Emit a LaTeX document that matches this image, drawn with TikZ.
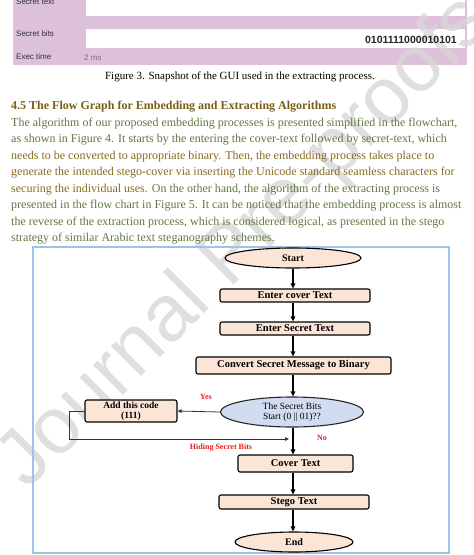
\documentclass[tikz,border=0pt]{standalone}
\usepackage{fontspec}
\setmainfont{Liberation Serif}
\setsansfont{Liberation Sans}
\usetikzlibrary{shapes.geometric,arrows.meta}
\definecolor{guipink}{RGB}{221,193,218}
\definecolor{headcol}{RGB}{122,92,20}
\definecolor{txtgreen}{RGB}{95,120,65}
\definecolor{txtgold}{RGB}{135,105,35}
\definecolor{framecol}{RGB}{157,195,230}
\definecolor{peach}{RGB}{251,229,214}
\definecolor{decblue}{RGB}{210,220,240}
\definecolor{wmgray}{RGB}{215,215,215}
\definecolor{labred}{RGB}{230,30,30}
\tikzset{
  guilabel/.style={font=\fontsize{8}{9}\selectfont\sffamily, text=black!80, inner sep=0pt},
  bodyline/.style={font=\fontsize{12}{14}\selectfont, anchor=base west, inner sep=0pt},
  proc/.style={draw=black, line width=1.1pt, fill=peach, rounded corners=2pt,
    font=\fontsize{10.5}{11}\selectfont\bfseries, inner sep=0pt},
  term/.style={ellipse, draw=black, line width=1.1pt, fill=peach,
    font=\fontsize{10}{11}\selectfont\bfseries, inner sep=0pt},
  flow/.style={line width=1.2pt, -{Triangle[length=5pt,width=4.5pt]}},
  redlab/.style={font=\fontsize{8}{9}\selectfont\bfseries, text=labred, inner sep=0pt}
}
\begin{document}
\begin{tikzpicture}[x=1pt,y=-1pt]
\useasboundingbox (0,0) rectangle (474,555);
\clip (0,0) rectangle (474,555);
% GUI snapshot backgrounds
\fill[guipink] (13,-5) rectangle (467,65);
\fill[white] (86,-5) rectangle (465,16);
\fill[white] (86,29) rectangle (465,48);
% watermark (behind texts)
\node[rotate=45, font=\fontsize{80}{80}\selectfont\sffamily, text=wmgray, opacity=0.8, inner sep=0pt] (wm) at (246,243) {Journal Pre-proofs};
% GUI texts
\node[guilabel, anchor=base west] (g1) at (16,4) {Secret text};
\node[guilabel, anchor=base west] (g2) at (16,36) {Secret bits};
\node[guilabel, anchor=base west] (g3) at (16,59) {Exec time};
\node[font=\fontsize{8}{9}\selectfont\sffamily, text=black!55, anchor=base west, inner sep=0pt] (g4) at (84,60) {2 ms};
\node[font=\fontsize{10.5}{11}\selectfont\sffamily\bfseries, text=black!85, anchor=base east, inner sep=0pt] (g5) at (457,43) {0101111000010101};
% caption
\node[font=\fontsize{11}{13}\selectfont, anchor=base, inner sep=0pt] (cap) at (240,79) {Figure 3. Snapshot of the GUI used in the extracting process.};
% heading and text
\node[font=\fontsize{12}{14}\selectfont\bfseries, text=headcol, anchor=base west, inner sep=0pt] (head) at (11,109) {4.5 The Flow Graph for Embedding and Extracting Algorithms};
\node[bodyline, text=txtgreen] (p1) at (11,126) {The algorithm of our proposed embedding processes is presented simplified in the flowchart,};
\node[bodyline, text=txtgreen] (p2) at (11,142.5) {as shown in Figure 4. It starts by the entering the cover-text followed by secret-text, which};
\node[bodyline, text=txtgold] (p3) at (11,159) {needs to be converted to appropriate binary. Then, the embedding process takes place to};
\node[bodyline, text=txtgold] (p4) at (11,175.5) {generate the intended stego-cover via inserting the Unicode standard seamless characters for};
\node[bodyline] (p5) at (11,192) {\textcolor{txtgold}{securing the individual uses.} \textcolor{txtgreen}{On the other hand, the algorithm of the extracting process is}};
\node[bodyline, text=txtgreen] (p6) at (11,208.5) {presented in the flow chart in Figure 5. It can be noticed that the embedding process is almost};
\node[bodyline, text=txtgreen] (p7) at (11,225) {the reverse of the extraction process, which is considered logical, as presented in the stego};
\node[bodyline, text=txtgreen] (p8) at (11,241.5) {strategy of similar Arabic text steganography schemes.};
% flowchart frame
\draw[framecol, line width=1.3pt] (33,247) rectangle (449,553);
% nodes
\node[term, minimum width=136pt, minimum height=20pt] (start) at (293,258) {Start};
\node[proc, minimum width=150pt, minimum height=13pt] (cover) at (295,295.5) {Enter cover Text};
\node[proc, minimum width=150pt, minimum height=13pt] (secret) at (295,328.5) {Enter Secret Text};
\node[proc, minimum width=195pt, minimum height=17pt] (conv) at (293.5,365.5) {Convert Secret Message to Binary};
\node[ellipse, draw=black!85, line width=1.1pt, fill=decblue, minimum width=143pt, minimum height=30pt, inner sep=0pt,
  font=\fontsize{9.5}{10}\selectfont, align=center] (dec) at (292,412) {The Secret Bits\\Start (0 || 01)??};
\node[proc, minimum width=92pt, minimum height=22pt, align=center, font=\fontsize{9.5}{9.5}\selectfont\bfseries] (add) at (131,411) {Add this code\\(111)};
\node[proc, minimum width=115pt, minimum height=17pt] (ctext) at (295.5,463.5) {Cover Text};
\node[proc, minimum width=150pt, minimum height=14pt] (stego) at (294,502) {Stego Text};
\node[term, minimum width=118pt, minimum height=20pt] (end) at (294,542) {End};
% connectors
\coordinate (loopend) at (289,439);
\draw[flow] (start.south) -- (start.south |- cover.north);
\draw[flow] (cover.south -| start.south) -- (start.south |- secret.north);
\draw[flow] (secret.south -| start.south) -- (start.south |- conv.north);
\draw[flow] (conv.south -| start.south) -- (start.south |- dec.north);
\draw[flow] (dec.south -| start.south) -- (start.south |- ctext.north);
\draw[flow] (ctext.south -| start.south) -- (start.south |- stego.north);
\draw[flow] (stego.south -| start.south) -- (start.south |- end.north);
\draw[line width=0.8pt, black!80, -{Triangle[length=4pt,width=3.5pt]}] (dec.west) -- (add.east);
\draw[line width=0.8pt, black!80, -{Triangle[length=4pt,width=3.5pt]}] (add.west) -- ++(-15,0) |- (loopend);
% labels
\node[redlab] (yes) at (206,397) {Yes};
\node[redlab] (no) at (322,438) {No};
\node[redlab] (hide) at (221,448) {Hiding Secret Bits};
\end{tikzpicture}
\end{document}
